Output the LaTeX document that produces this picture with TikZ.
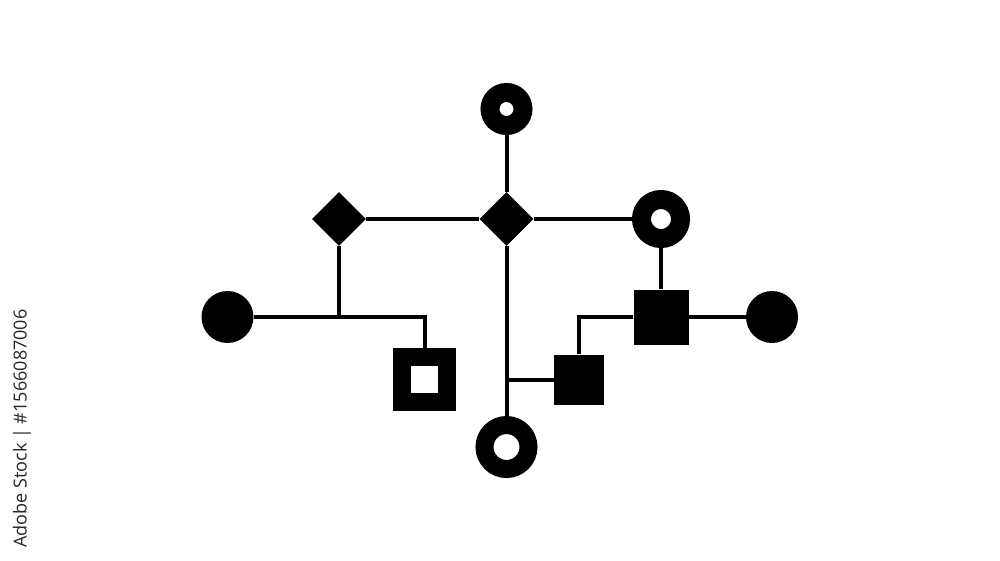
\documentclass[tikz,border=0pt]{standalone}
\usepackage{fontspec}
\setsansfont{Open Sans}
\usetikzlibrary{shapes.geometric}
\tikzset{
  link/.style={line width=4pt},
  dot/.style={circle,fill=black,inner sep=0pt,minimum size=52pt},
  ring/.style={circle,draw=black,fill=white,inner sep=0pt,line width=#1},
  ring/.default=19pt,
  gem/.style={diamond,fill=black,inner sep=0pt,minimum width=54pt,minimum height=54pt},
  box/.style={rectangle,fill=black,inner sep=0pt},
  hollowbox/.style={rectangle,draw=black,fill=white,inner sep=0pt,line width=18pt,minimum size=45pt}
}
\begin{document}
\begin{tikzpicture}[x=1pt,y=-1pt]
            \useasboundingbox (0,0) rectangle (1000,560);
            \node[ring,minimum size=33pt] (topring) at (506.5,109) {};
            \node[gem] (hubgem) at (506.5,219) {};
            \node[gem] (leftgem) at (339,219) {};
            \node[ring,minimum size=39pt] (rightring) at (661,219) {};
            \node[dot] (leftdot) at (227.5,317) {};
            \node[hollowbox] (hollowsq) at (424.5,379) {};
            \node[box,minimum size=55pt] (bigsq) at (661,317) {};
            \node[dot] (rightdot) at (772,317) {};
            \node[box,minimum size=50pt] (smallsq) at (579,379.5) {};
            \node[ring=18pt,minimum size=44pt] (bottomring) at (506.5,447) {};
            \draw[link] (topring) -- (hubgem);
            \draw[link] (leftgem) -- (hubgem);
            \draw[link] (hubgem) -- (rightring);
            \draw[link] (leftgem) -- (leftgem |- leftdot);
            \draw[link] (leftdot) -| (hollowsq);
            \draw[link] (hubgem) -- (bottomring);
            \draw[link] (hubgem |- smallsq) -- (smallsq);
            \draw[link] (rightring) -- (bigsq);
            \draw[link] (bigsq) -- (rightdot);
            \draw[link] (bigsq) -| (smallsq);
            \node[rotate=90,text=black!85,font=\sffamily\fontsize{18}{21}\selectfont] (stamp) at (22,428.5) {Adobe Stock | \#1566087006};
        \end{tikzpicture}
\end{document}
